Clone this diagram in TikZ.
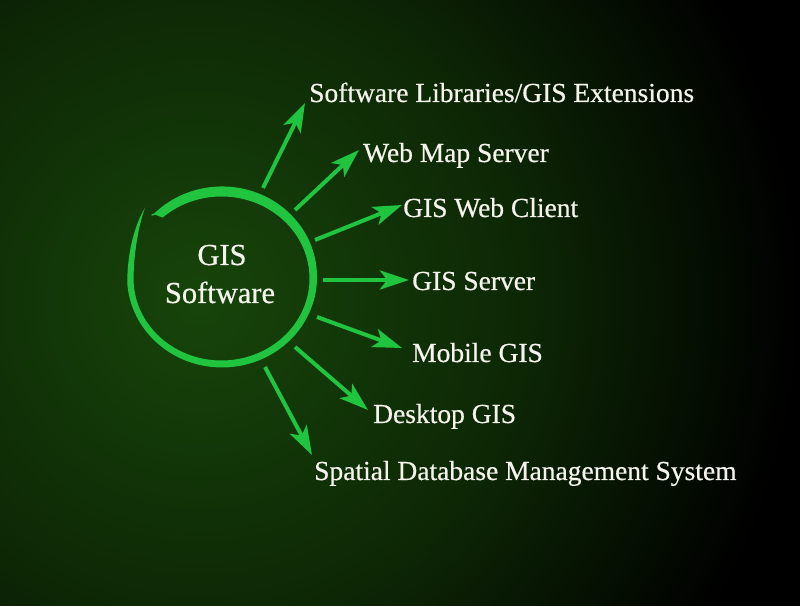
\documentclass[tikz,border=0pt]{standalone}
\usepackage{fontspec}
\setmainfont{Liberation Serif}
\newfontfamily\lblfont{Liberation Serif}[FakeBold=0.5]
\usetikzlibrary{arrows.meta}
\definecolor{gisgreen}{RGB}{32,196,62}
\definecolor{txtwhite}{RGB}{244,244,236}
\pgfdeclareradialshading{bgshade}{\pgfpoint{0bp}{0bp}}{rgb(0bp)=(0.09,0.27,0.04); rgb(13.75bp)=(0.05,0.15,0.02); rgb(25bp)=(0,0,0); rgb(50bp)=(0,0,0)}
\tikzset{
  lbl/.style={anchor=base west, inner sep=0pt, text=txtwhite, font=\lblfont\fontsize{27.5}{30}\selectfont},
  ctr/.style={anchor=base, inner sep=0pt, text=txtwhite, font=\lblfont\fontsize{30.5}{34}\selectfont},
  arr/.style={draw=gisgreen, line width=4pt, -{Stealth[length=29pt,width=19pt,inset=7pt]}},
}
\begin{document}
\begin{tikzpicture}[x=1pt,y=1pt]
\useasboundingbox (0,0) rectangle (800,605);
\fill[black] (-10,-10) rectangle (810,615);
\begin{scope}
\clip (-10,-10) rectangle (810,615);
\shade[shading=bgshade] (200,305) circle (600pt);
\end{scope}
% central ring (hand-drawn look, variable width)
\coordinate (ostart) at (153.7,390.9);
\coordinate (tip) at (145,397);
\coordinate (iend) at (133.83,319.35);
\fill[gisgreen] (ostart) arc[start angle=136, end angle=-175, x radius=95pt, y radius=90.5pt]
   .. controls (126.5,345) and (133,378) .. (tip)
   .. controls (137,376) and (132.5,340) .. (iend)
   arc[start angle=-175, end angle=132, x radius=88pt, y radius=82pt] -- cycle;
\coordinate (sp1) at (152,390);
\coordinate (sp2) at (172,398);
\draw[gisgreen, line width=1.4pt, line cap=round] (sp1) -- (sp2);
% centre text
\node[ctr] (gis) at (222,340) {GIS};
\node[ctr] (sw) at (220,302) {Software};
% labels
\node[lbl] (l1) at (309,503) {Software Libraries/GIS Extensions};
\node[lbl] (l2) at (363,443) {Web Map Server};
\node[lbl] (l3) at (403,388) {GIS Web Client};
\node[lbl] (l4) at (412,315) {GIS Server};
\node[lbl] (l5) at (412,243) {Mobile GIS};
\node[lbl] (l6) at (373,182) {Desktop GIS};
\node[lbl] (l7) at (314,125) {Spatial Database Management System};
% arrow ends
\coordinate (s1) at (263,417); \coordinate (e1) at (305,502);
\coordinate (s2) at (295,395); \coordinate (e2) at (359,455);
\coordinate (s3) at (315,365); \coordinate (e3) at (402,400);
\coordinate (s4) at (323,325); \coordinate (e4) at (409,325);
\coordinate (s5) at (317,288); \coordinate (e5) at (402,257);
\coordinate (s6) at (295,258); \coordinate (e6) at (368,195);
\coordinate (s7) at (265,238); \coordinate (e7) at (312,150);
\foreach \i in {1,...,7} { \draw[arr] (s\i) -- (e\i); }
\end{tikzpicture}
\end{document}
